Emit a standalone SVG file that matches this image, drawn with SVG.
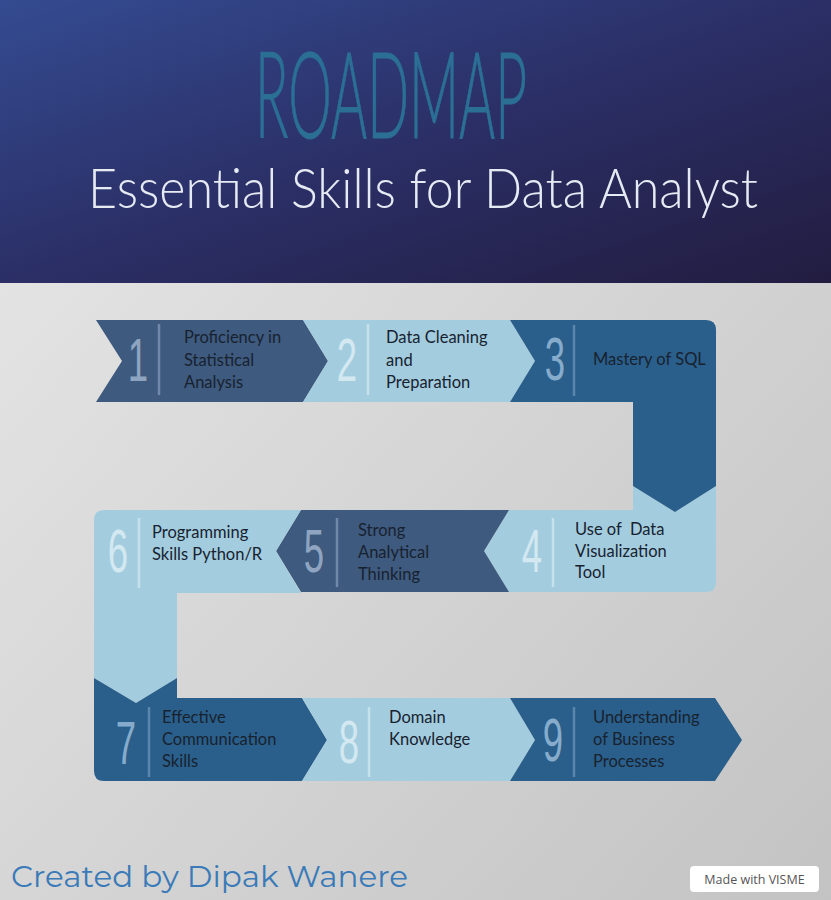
<svg xmlns="http://www.w3.org/2000/svg" width="831" height="900" viewBox="0 0 831 900">
<defs>
<linearGradient id="hdr" x1="0" y1="0" x2="1" y2="1">
<stop offset="0" stop-color="#344b91"/>
<stop offset="0.5" stop-color="#2b2f66"/>
<stop offset="1" stop-color="#221c40"/>
</linearGradient>
<linearGradient id="bg" x1="0" y1="0" x2="1" y2="1">
<stop offset="0" stop-color="#e9e9e9"/>
<stop offset="1" stop-color="#c3c3c3"/>
</linearGradient>
<style>
.slate{fill:#3e5a7f}
.dark{fill:#2a5f8b}
.light{fill:#a3cddf}
.num{font-family:"Liberation Sans",Arial,sans-serif;font-size:61px;text-anchor:middle}
.ns{fill:#8ea4c0}
.nl{fill:#d3e8f1}
.nd{fill:#86abcb}
.dv{stroke-width:2.5}
.t{font-family:Lato,"Open Sans",sans-serif;font-size:16.5px;fill:#18222f}
</style>
</defs>
<rect x="0" y="0" width="831" height="900" fill="url(#bg)"/>
<rect x="0" y="0" width="831" height="283" fill="url(#hdr)"/>
<text x="391" y="138" text-anchor="middle" textLength="272" lengthAdjust="spacingAndGlyphs" font-family="Lato,sans-serif" font-weight="300" font-size="120" fill="#2b6f95" stroke="#2b6f95" stroke-width="1">ROADMAP</text>
<text x="88" y="208" textLength="670" lengthAdjust="spacingAndGlyphs" font-family="Lato,sans-serif" font-weight="300" font-size="55" fill="#e6eaf3">Essential Skills for Data Analyst</text>

<g id="connectors"></g>

<g id="node4">
<path class="light" d="M633,486 L675,512 L716,486 L716,582 Q716,592 706,592 L509,592 L484,551 L509,510 L633,510 Z"/>
<text class="num nl" transform="translate(532,572) scale(0.6,1)">4</text>
<line class="dv" x1="553" y1="518" x2="553" y2="587" stroke="#c6e1ec"/>
<text class="t" x="575"><tspan x="575" y="535" xml:space="preserve">Use of  Data</tspan><tspan x="575" y="557">Visualization</tspan><tspan x="575" y="578">Tool</tspan></text>
</g>
<g id="node1">
<path class="slate" d="M96,320 L303,320 L328,361 L303,402 L96,402 L122,361 Z"/>
<text class="num ns" transform="translate(138,381) scale(0.6,1)">1</text>
<line class="dv" x1="159" y1="324" x2="159" y2="395" stroke="#7189a8"/>
<text class="t"><tspan x="184" y="343">Proficiency in</tspan><tspan x="184" y="366">Statistical</tspan><tspan x="184" y="388">Analysis</tspan></text>
</g>
<g id="node2">
<path class="light" d="M303,320 L510,320 L535,361 L510,402 L303,402 L328,361 Z"/>
<text class="num nl" transform="translate(347,381) scale(0.6,1)">2</text>
<line class="dv" x1="368" y1="324" x2="368" y2="395" stroke="#c6e1ec"/>
<text class="t"><tspan x="386" y="343">Data Cleaning</tspan><tspan x="386" y="366">and</tspan><tspan x="386" y="388">Preparation</tspan></text>
</g>
<g id="node3">
<path class="dark" d="M510,320 L706,320 Q716,320 716,330 L716,486 L675,512 L633,486 L633,402 L510,402 L535,361 Z"/>
<text class="num nd" transform="translate(555,380) scale(0.6,1)">3</text>
<line class="dv" x1="574" y1="325" x2="574" y2="396" stroke="#5a85ad"/>
<text class="t" x="593" y="365">Mastery of SQL</text>
</g>
<g id="node5">
<path class="slate" d="M509,510 L484,551 L509,592 L301,592 L276,551 L301,510 Z"/>
<text class="num ns" transform="translate(314,572) scale(0.6,1)">5</text>
<line class="dv" x1="337" y1="518" x2="337" y2="587" stroke="#7189a8"/>
<text class="t"><tspan x="358" y="536">Strong</tspan><tspan x="358" y="558">Analytical</tspan><tspan x="358" y="580">Thinking</tspan></text>
</g>
<g id="node6">
<path class="light" d="M104,510 L301,510 L276,551 L301,593 L177,593 L177,678 L136,703 L94,678 L94,520 Q94,510 104,510 Z"/>
<text class="num nl" transform="translate(118,572) scale(0.6,1)">6</text>
<line class="dv" x1="139" y1="518" x2="139" y2="588" stroke="#c6e1ec"/>
<text class="t"><tspan x="152" y="538">Programming</tspan><tspan x="152" y="560">Skills Python/R</tspan></text>
</g>
<g id="node7">
<path class="dark" d="M94,678 L136,703 L177,678 L177,698 L302,698 L327,740 L302,781 L104,781 Q94,781 94,771 Z"/>
<text class="num nd" transform="translate(126,764) scale(0.6,1)">7</text>
<line class="dv" x1="149" y1="707" x2="149" y2="777" stroke="#5a85ad"/>
<text class="t"><tspan x="162" y="723">Effective</tspan><tspan x="162" y="745">Communication</tspan><tspan x="162" y="767">Skills</tspan></text>
</g>
<g id="node8">
<path class="light" d="M302,698 L510,698 L535,740 L510,781 L302,781 L327,740 Z"/>
<text class="num nl" transform="translate(349,763) scale(0.6,1)">8</text>
<line class="dv" x1="369" y1="707" x2="369" y2="777" stroke="#c6e1ec"/>
<text class="t"><tspan x="389" y="723">Domain</tspan><tspan x="389" y="745">Knowledge</tspan></text>
</g>
<g id="node9">
<path class="dark" d="M510,698 L715,698 L742,740 L715,781 L510,781 L535,740 Z"/>
<text class="num nd" transform="translate(553,761) scale(0.6,1)">9</text>
<line class="dv" x1="574" y1="707" x2="574" y2="777" stroke="#5a85ad"/>
<text class="t"><tspan x="593" y="723">Understanding</tspan><tspan x="593" y="745">of Business</tspan><tspan x="593" y="767">Processes</tspan></text>
</g>

<text x="11" y="887" font-family="Montserrat,'Open Sans',sans-serif" font-size="29" fill="#3a7ab8" textLength="397" lengthAdjust="spacingAndGlyphs">Created by Dipak Wanere</text>
<rect x="690" y="866" width="129" height="26" rx="4" fill="#ffffff"/>
<text x="754.5" y="884" text-anchor="middle" font-family="'Open Sans',sans-serif" font-size="12.5" fill="#555">Made with VISME</text>
</svg>
